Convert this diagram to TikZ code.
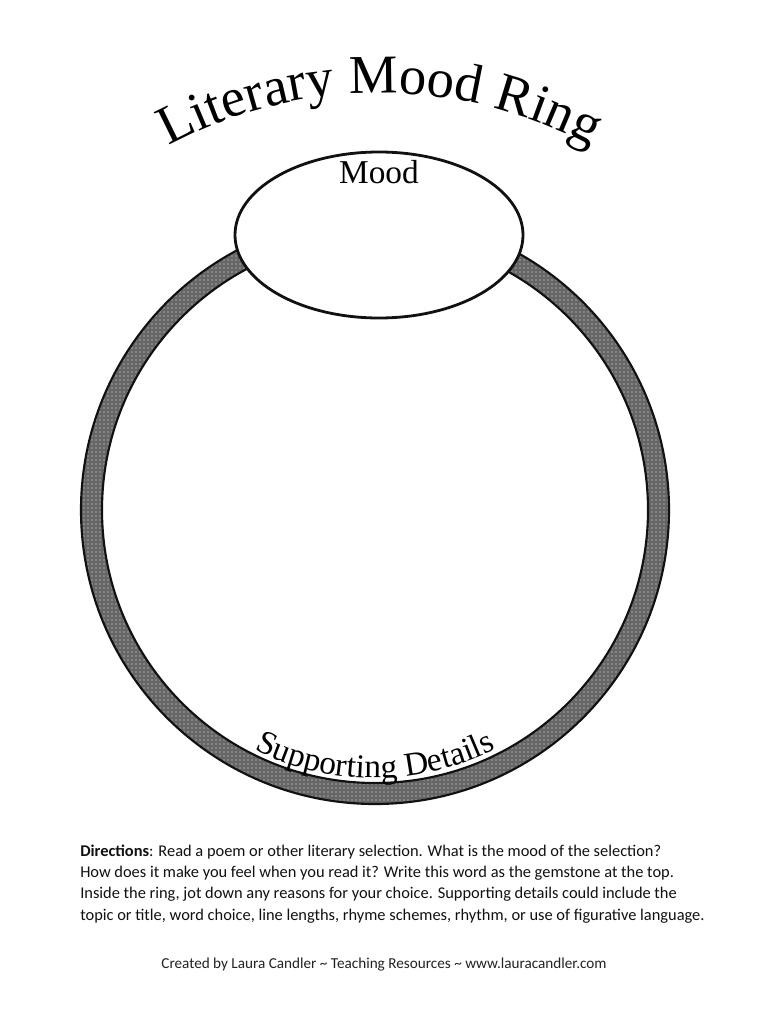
\documentclass[tikz,border=0pt]{standalone}
\usepackage{fontspec}
\setmainfont{Liberation Serif}
\newfontfamily\dirfont{Carlito}
\usepackage{tikz}
\usetikzlibrary{
  shapes.geometric, patterns,
  decorations.text, positioning, calc
}
\definecolor{inkblack} {HTML}{111111}
\definecolor{bandgray} {HTML}{666666}
\definecolor{footgray} {HTML}{222222}
\tikzset{
  ringband/.style={
    fill=bandgray, even odd rule, draw=none
  },
  ringedge/.style={draw=inkblack, line width=1.6pt},
  gemstone/.style={
    ellipse, draw=inkblack, fill=white, line width=2.1pt,
    minimum width=216pt, minimum height=124.5pt, inner sep=0pt
  },
  arctext/.style={
    decorate,
    decoration={text along path, text align=center, text={#1}}
  },
  dirtext/.style={
    font=\dirfont\fontsize{12.3}{15.8}\selectfont, text=inkblack,
    align=left, inner sep=0pt
  }
}

\begin{document}
\begin{tikzpicture}[x=0.75pt, y=0.75pt]

  \useasboundingbox[fill=white] (0,0) rectangle (768,-1024);

  % the ring
  \coordinate (ringc) at (375,-510);
  \fill[ringband] (ringc) circle[radius=294] (ringc) circle[radius=273];
  \fill[pattern=dots, pattern color=white!85!gray, even odd rule]
    (ringc) circle[radius=294] (ringc) circle[radius=273];
  \draw[ringedge] (ringc) circle[radius=294];
  \draw[ringedge] (ringc) circle[radius=273];

  % the gemstone on top
  \node[gemstone] (gem) at (379,-235) {};
  \node[anchor=base, font=\fontsize{25}{29}\selectfont] (moodlbl)
    at (379,-183) {Mood};

  % curved texts
  \coordinate (titlec) at (380,-540);
  \path[arctext={|\fontsize{41}{46}\selectfont|Literary{ }Mood{ }Ring}]
    ($(titlec)+(120:447)$) arc[start angle=120, end angle=60, radius=447];
  \path[arctext={|\fontsize{25}{29}\selectfont|Supporting{ }Details}]
    ($(ringc)+(236:268)$) arc[start angle=236, end angle=304, radius=268];

  % directions and footer
  \node[dirtext, anchor=north west] (dirs) at (80,-845) {%
    \textbf{Directions}: Read a poem or other literary selection. What is the mood of the selection?\\
    How does it make you feel when you read it? Write this word as the gemstone at the top.\\
    Inside the ring, jot down any reasons for your choice. Supporting details could include the\\
    topic or title, word choice, line lengths, rhyme schemes, rhythm, or use of figurative language.};

  \node[font=\dirfont\fontsize{11.4}{13}\selectfont, text=footgray] (credit)
    at (384,-965) {Created by Laura Candler \textasciitilde{} Teaching Resources \textasciitilde{} www.lauracandler.com};

\end{tikzpicture}
\end{document}
